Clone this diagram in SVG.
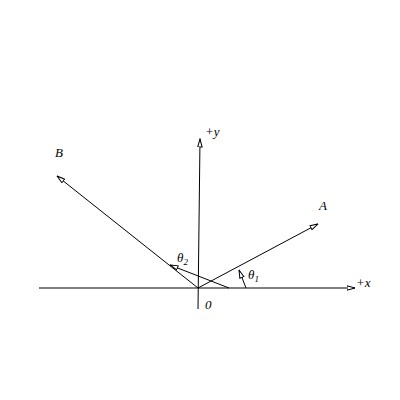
<svg xmlns="http://www.w3.org/2000/svg" width="400" height="400" viewBox="0 0 400 400">
<style>
.ln{stroke:#000;stroke-width:1;fill:none}
.t{font-family:"Liberation Serif","DejaVu Serif",serif;font-style:italic;font-size:13px;fill:#000}
.s{font-size:9px}
</style>
<defs>
<marker id="ah" viewBox="0 0 9 6" refX="8.5" refY="3" markerWidth="9" markerHeight="6" markerUnits="userSpaceOnUse" orient="auto">
<path d="M0.5,0.8 L8.5,3 L0.5,5.2 Z" fill="#fff" stroke="#000" stroke-width="1"/>
</marker>
</defs>
<rect width="400" height="400" fill="#fff"/>
<g id="connectors">
<line id="x-axis" class="ln" x1="39" y1="288" x2="355" y2="288" marker-end="url(#ah)"/>
<line id="y-axis" class="ln" x1="198" y1="309" x2="200" y2="139" marker-end="url(#ah)"/>
<line id="ray-A" class="ln" x1="198" y1="288" x2="318" y2="224" marker-end="url(#ah)"/>
<line id="ray-B" class="ln" x1="198" y1="288" x2="57" y2="176" marker-end="url(#ah)"/>
<line id="theta2-arrow" class="ln" x1="229" y1="288" x2="170" y2="265" marker-end="url(#ah)"/>
<line id="theta1-arrow" class="ln" x1="246" y1="288" x2="239" y2="270" marker-end="url(#ah)"/>
</g>
<g id="label-y"><text class="t" x="205" y="136">+y</text></g>
<g id="label-x"><text class="t" x="356" y="287">+x</text></g>
<g id="label-A"><text class="t" x="319" y="210">A</text></g>
<g id="label-B"><text class="t" x="55" y="157">B</text></g>
<g id="label-0"><text class="t" x="205" y="309">0</text></g>
<g id="label-theta2"><text class="t" x="177" y="262">θ<tspan class="s" dy="3">2</tspan></text></g>
<g id="label-theta1"><text class="t" x="248" y="279">θ<tspan class="s" dy="3">1</tspan></text></g>
</svg>
